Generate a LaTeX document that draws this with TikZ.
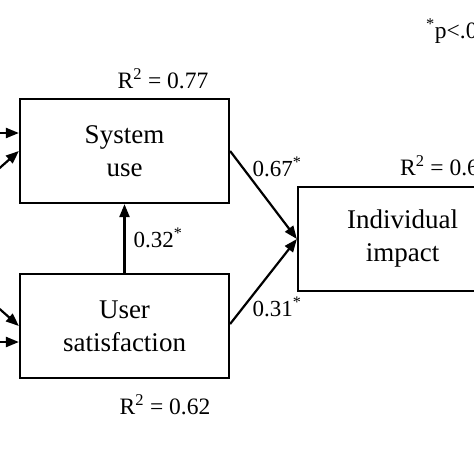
\documentclass[tikz,border=0pt]{standalone}
\usepackage{fontspec}
\setmainfont{Liberation Serif}
\usetikzlibrary{arrows.meta,positioning,calc}

\begin{document}
\begin{tikzpicture}[
      x=1pt, y=1pt,
      blk/.style={draw, line width=2.2pt, align=center,
        minimum width=209pt, minimum height=104pt, inner sep=0pt,
        font=\fontsize{27}{33}\selectfont},
      coef/.style={font=\fontsize{23}{27}\selectfont, inner sep=0pt},
      rsq/.style={font=\fontsize{23.5}{27}\selectfont, inner sep=0pt},
      arr/.style={-{Triangle[length=13pt,width=10pt]}, line width=2.2pt},
    ]
    \useasboundingbox (0,0) rectangle (474,-474);
    \clip (0,0) rectangle (474,-474);

    % --- the three constructs ---
    \node[blk] (su) at (124.5,-151) {System\\use};
    \node[blk] (us) at (124.5,-326) {User\\satisfaction};
    \node[blk] (ii) at (402.5,-239) {Individual\\impact};

    % --- paths ---
    \draw[arr] (us.north) -- (su.south);
    \draw[arr] (su.east) -- (ii.west);
    \draw[arr] ($(us.east)+(0,2)$) -- (ii.west);

    % --- incoming arrows from the left (cut off) ---
    \coordinate (in1) at (-6,-133);
    \coordinate (in2) at (-6,-173);
    \coordinate (in3) at (-6,-304);
    \coordinate (in4) at (-6,-342);
    \draw[arr] (in1) -- (in1 -| su.west);
    \draw[arr] (in2) -- (su.west);
    \draw[arr] (in3) -- (us.west);
    \draw[arr] (in4) -- (in4 -| us.west);

    % --- coefficients and R^2 ---
    \node[coef] (c67) at (277,-167) {0.67\textsuperscript{*}};
    \node[coef] (c31) at (277,-307) {0.31\textsuperscript{*}};
    \node[coef] (c32) at (158,-238) {0.32\textsuperscript{*}};
    \node[rsq] (r77) at (163,-79) {R\textsuperscript{2} = 0.77};
    \node[rsq] (r62) at (165,-405) {R\textsuperscript{2} = 0.62};
    \node[rsq, anchor=west] (r6x) at (400,-166) {R\textsuperscript{2} = 0.6};
    \node[rsq, anchor=west] (sig) at (426,-31) {\textsuperscript{*}p<.0};
  \end{tikzpicture}
\end{document}
